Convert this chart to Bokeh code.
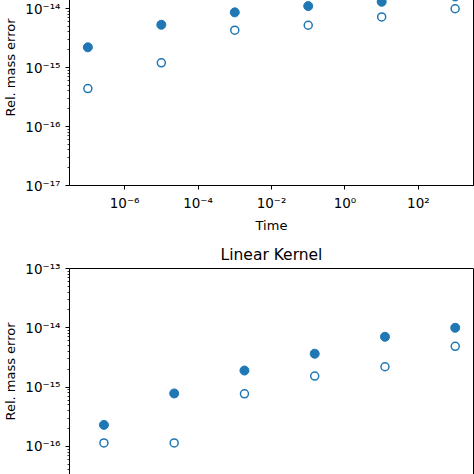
import numpy as np
from bokeh.plotting import figure
from bokeh.models import LogAxis, FixedTicker, CustomJSTickFormatter, Range1d
from bokeh.layouts import column
from bokeh.embed import file_html
from bokeh.resources import INLINE

# ---- data ----
time = [1e-7, 1e-5, 1e-3, 1e-1, 1e1, 1e3]
top_filled = [2.2e-15, 5.3e-15, 8.6e-15, 1.1e-14, 1.3e-14, 1.6e-14]
top_open = [4.4e-16, 1.2e-15, 4.3e-15, 5.2e-15, 7.2e-15, 9.9e-15]
lin_filled = [2.3e-16, 7.8e-16, 1.9e-15, 3.65e-15, 7.05e-15, 1.0e-14]
lin_open = [1.14e-16, 1.14e-16, 7.7e-16, 1.53e-15, 2.2e-15, 4.87e-15]

x_ticks = [1e-6, 1e-4, 1e-2, 1e0, 1e2]
y_ticks_top = [1e-17, 1e-16, 1e-15, 1e-14]
y_ticks_bottom = [1e-16, 1e-15, 1e-14, 1e-13]
y_minor = [m * 10.0 ** e for e in range(-18, -12) for m in range(2, 10)]

BLUE = "#1f77b4"
FONT = "DejaVu Sans"

fmt_code = """
const e = Math.round(Math.log10(tick));
const m = {'-':'\\u207b','0':'\\u2070','1':'\\u00b9','2':'\\u00b2','3':'\\u00b3',
           '4':'\\u2074','5':'\\u2075','6':'\\u2076','7':'\\u2077','8':'\\u2078','9':'\\u2079'};
return '10' + String(e).split('').map(c => m[c]).join('');
"""


def style_axis(ax):
    ax.major_tick_in = 0
    ax.major_tick_out = 4
    ax.minor_tick_in = 0
    ax.minor_tick_out = 2
    ax.major_tick_line_color = "black"
    ax.minor_tick_line_color = "black"
    ax.minor_tick_line_width = 0.8
    ax.axis_line_color = "black"
    ax.major_label_text_font = FONT
    ax.major_label_text_font_size = "13.5px"
    ax.major_label_text_color = "black"
    ax.axis_label_text_font = FONT
    ax.axis_label_text_font_size = "13px"
    ax.axis_label_text_font_style = "normal"
    ax.axis_label_text_color = "black"
    ax.major_label_standoff = 5
    ax.formatter = CustomJSTickFormatter(code=fmt_code)


def blank_axis(side_plot, side):
    ax = LogAxis(ticker=FixedTicker(ticks=[], minor_ticks=[]),
                 major_tick_out=0, major_tick_in=0, minor_tick_out=0, minor_tick_in=0,
                 major_label_standoff=0, axis_line_color="black")
    side_plot.add_layout(ax, side)


# ---- top panel ----
p1 = figure(width=474, height=286, x_axis_type="log", y_axis_type="log",
            x_range=Range1d(10 ** -7.5, 10 ** 3.5), y_range=Range1d(1e-17, 1e-13),
            output_backend="svg", toolbar_location=None,
            min_border_left=68, min_border_right=1, min_border_top=0, min_border_bottom=49)
p1.margin = (-51, 0, 0, 0)
p1.outline_line_color = "black"
p1.grid.visible = False
p1.background_fill_color = "white"
p1.border_fill_color = "white"
p1.scatter(time, top_filled, size=9, fill_color=BLUE, line_color=BLUE)
p1.scatter(time, top_open, size=8, fill_color="white", line_color=BLUE, line_width=1.5)
style_axis(p1.xaxis[0])
style_axis(p1.yaxis[0])
p1.xaxis[0].ticker = FixedTicker(ticks=x_ticks, minor_ticks=[])
p1.yaxis[0].ticker = FixedTicker(ticks=y_ticks_top, minor_ticks=y_minor)
p1.xaxis[0].axis_label = "Time"
p1.xaxis[0].axis_label_standoff = 4
p1.yaxis[0].axis_label = "Rel. mass error"
p1.yaxis[0].axis_label_standoff = 4

# ---- bottom panel ----
p2 = figure(width=474, height=239, x_axis_type="log", y_axis_type="log",
            x_range=Range1d(10 ** -7.98, 10 ** 3.52), y_range=Range1d(10 ** -16.475, 1e-13),
            output_backend="svg", toolbar_location=None, title="Linear Kernel",
            min_border_left=68, min_border_right=1, min_border_top=33, min_border_bottom=0)
p2.outline_line_color = None
p2.grid.visible = False
p2.background_fill_color = "white"
p2.border_fill_color = "white"
p2.title.align = "center"
p2.title.text_font = FONT
p2.title.text_font_size = "15.5px"
p2.title.text_font_style = "normal"
p2.title.text_color = "black"
p2.scatter(time, lin_filled, size=9, fill_color=BLUE, line_color=BLUE)
p2.scatter(time, lin_open, size=8, fill_color="white", line_color=BLUE, line_width=1.5)
p2.xaxis.visible = False
style_axis(p2.yaxis[0])
p2.yaxis[0].ticker = FixedTicker(ticks=y_ticks_bottom, minor_ticks=y_minor)
p2.yaxis[0].axis_label = "Rel. mass error"
p2.yaxis[0].axis_label_standoff = 4
blank_axis(p2, "right")
blank_axis(p2, "above")

layout = column(p1, p2, spacing=0)
open("out.html", "w").write(file_html(layout, INLINE))
